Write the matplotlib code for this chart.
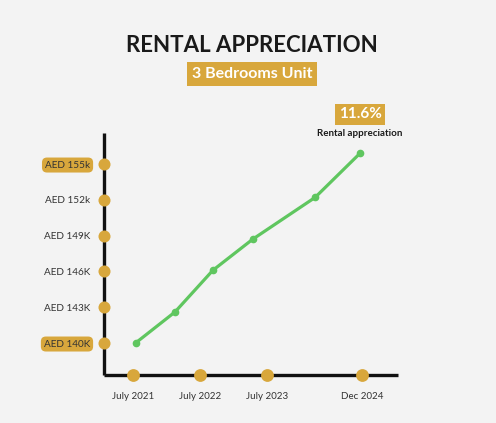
import matplotlib
matplotlib.use("Agg")
import matplotlib.pyplot as plt
import pandas as pd

# ---- data ----
dates = ["2021-07-15", "2022-02-15", "2022-09-10", "2023-04-15", "2024-03-20", "2024-11-20"]
rent_k = [140.0, 142.6, 146.1, 148.7, 152.2, 155.9]
ytick_vals = [140, 143, 146, 149, 152, 155]
ytick_labels = ["AED 140K", "AED 143K", "AED 146K", "AED 149K", "AED 152k", "AED 155k"]
xtick_dates = ["2021-07-01", "2022-07-01", "2023-07-01", "2024-12-01"]
xtick_labels = ["July 2021", "July 2022", "July 2023", "Dec 2024"]
highlight_labels = ["AED 140K", "AED 155k"]
title = "RENTAL APPRECIATION"
subtitle = "3 Bedrooms Unit"
badge = "11.6%"
badge_caption = "Rental appreciation"

BG = "#f3f3f3"
GOLD = "#d8a73c"
GREEN = "#5fc65f"
plt.rcParams["font.family"] = ["Lato", "DejaVu Sans"]

W, H = 496, 423
fig = plt.figure(figsize=(W / 100, H / 100), dpi=100, facecolor=BG)

left, right, bottom, top = 104, 398, 375, 133
ax = fig.add_axes([left / W, (H - bottom) / H, (right - left) / W, (bottom - top) / H])
ax.set_facecolor(BG)

x = pd.to_datetime(dates)
xt = pd.to_datetime(xtick_dates)

ax.set_xlim(pd.Timestamp("2021-01-24"), pd.Timestamp("2025-06-15"))
ax.set_ylim(137.32, 157.6)

ax.plot(x, rent_k, color=GREEN, lw=2.3, marker="o", ms=4.5, zorder=3,
        solid_capstyle="round")

for s in ["top", "right"]:
    ax.spines[s].set_visible(False)
for s in ["left", "bottom"]:
    ax.spines[s].set_linewidth(2.4)
    ax.spines[s].set_color("#111111")
    ax.spines[s].set_capstyle("butt")

ax.set_yticks(ytick_vals)
ax.set_yticklabels(ytick_labels)
ax.set_xticks(xt)
ax.set_xticklabels(xtick_labels)
ax.tick_params(axis="y", length=0, pad=10, labelsize=7.2, labelcolor="#333333")
ax.tick_params(axis="x", length=0, pad=12.5, labelsize=7.0, labelcolor="#333333")

for t in ax.get_yticklabels():
    if t.get_text() in highlight_labels:
        t.set_bbox(dict(boxstyle="round,pad=0.3,rounding_size=0.5", fc=GOLD, ec="none"))

# dots on axes
x0 = ax.get_xlim()[0]
y0 = ax.get_ylim()[0]
ax.scatter([x0] * len(ytick_vals), ytick_vals, s=75, color=GOLD, zorder=5, clip_on=False, lw=0)
ax.scatter(xt, [y0] * len(xt), s=85, color=GOLD, zorder=5, clip_on=False, lw=0)

# titles
fig.text(252 / W, 1 - 46 / H, title, ha="center", va="center", fontsize=16,
         fontweight="bold", color="#1a1a1a")
fig.text(252 / W, 1 - 74 / H, subtitle, ha="center", va="center", fontsize=11.5,
         fontweight="bold", color="white",
         bbox=dict(boxstyle="square,pad=0.3", fc=GOLD, ec="none"))

# badge
ax.annotate(badge, xy=(x[-1], rent_k[-1]), xytext=(0, 28), textcoords="offset points",
            ha="center", va="center", fontsize=11, fontweight="bold", color="white",
            bbox=dict(boxstyle="square,pad=0.22", fc=GOLD, ec="none"), annotation_clip=False)
ax.annotate(badge_caption, xy=(x[-1], rent_k[-1]), xytext=(0, 14.5), textcoords="offset points",
            ha="center", va="center", fontsize=7, fontweight="bold", color="#1a1a1a",
            annotation_clip=False)

fig.savefig("out.png", dpi=100, facecolor=BG)
